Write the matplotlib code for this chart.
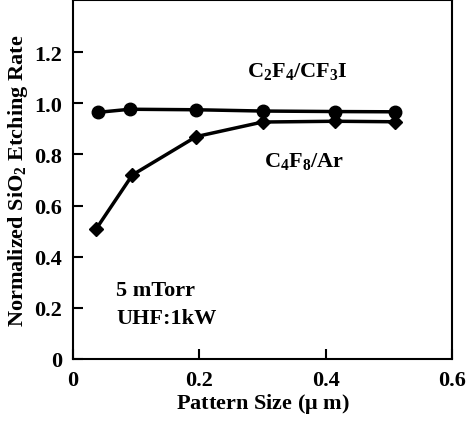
import matplotlib
matplotlib.use("Agg")
import matplotlib.pyplot as plt

plt.rcParams['font.family'] = ['Liberation Serif', 'DejaVu Serif']
plt.rcParams['font.weight'] = 'bold'
plt.rcParams['mathtext.fontset'] = 'custom'
plt.rcParams['mathtext.rm'] = 'Liberation Serif:bold'
plt.rcParams['mathtext.it'] = 'Liberation Serif:bold'
plt.rcParams['mathtext.default'] = 'rm'

x_c2f4 = [0.040, 0.090, 0.195, 0.300, 0.415, 0.510]
y_c2f4 = [0.965, 0.977, 0.975, 0.970, 0.968, 0.967]
x_c4f8 = [0.037, 0.094, 0.195, 0.300, 0.415, 0.510]
y_c4f8 = [0.510, 0.720, 0.870, 0.927, 0.930, 0.928]
xticks = [0, 0.2, 0.4, 0.6]
xticklabels = ['0', '0.2', '0.4', '0.6']
yticks = [0, 0.2, 0.4, 0.6, 0.8, 1.0, 1.2]
yticklabels = ['0', '0.2', '0.4', '0.6', '0.8', '1.0', '1.2']

fig = plt.figure(figsize=(4.74, 4.27), dpi=100)
ax = fig.add_axes([0.154, 0.157, 0.800, 0.841])
ax.plot(x_c2f4, y_c2f4, color='black', lw=2.5, marker='o', ms=9)
ax.plot(x_c4f8, y_c4f8, color='black', lw=2.5, marker='D', ms=7)
ax.set_xlim(0, 0.583)
ax.set_ylim(0, 1.405)
ax.set_xticks(xticks)
ax.set_xticklabels(xticklabels)
ax.set_yticks(yticks)
ax.set_yticklabels(yticklabels)
ax.tick_params(direction='in', labelsize=16, width=1.5, length=7, pad=8)
for s in ax.spines.values():
    s.set_linewidth(1.5)
ax.set_xlabel('Pattern Size ($\\mu$ m)', fontsize=16, fontweight='bold', labelpad=1)
ax.set_ylabel('Normalized SiO$_2$ Etching Rate', fontsize=16, fontweight='bold', labelpad=3)
ax.text(0.355, 1.13, 'C$_2$F$_4$/CF$_3$I', fontsize=16, fontweight='bold', ha='center', va='center')
ax.text(0.365, 0.775, 'C$_4$F$_8$/Ar', fontsize=16, fontweight='bold', ha='center', va='center')
ax.text(0.068, 0.27, '5 mTorr', fontsize=16, fontweight='bold', va='center')
ax.text(0.068, 0.16, 'UHF:1kW', fontsize=16, fontweight='bold', va='center')
fig.savefig('out.png', dpi=100)
